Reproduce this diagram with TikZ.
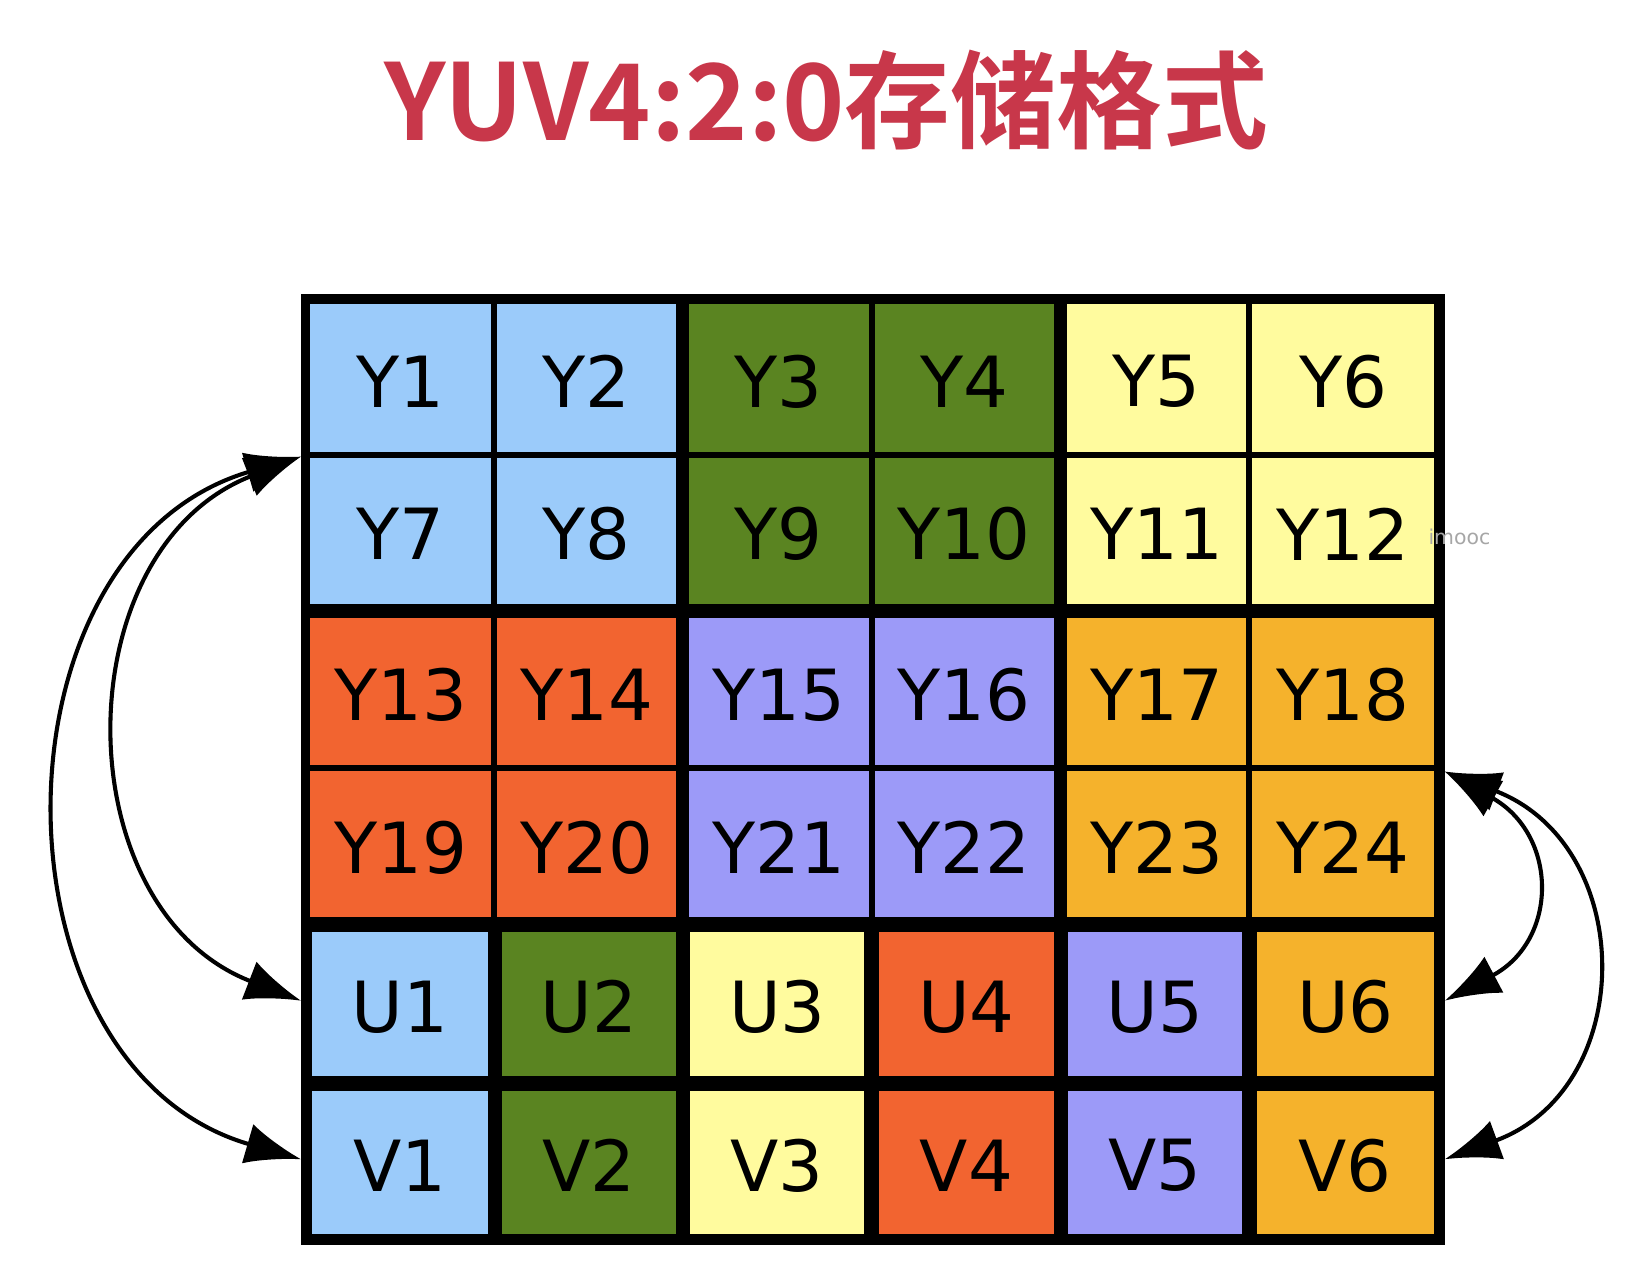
\documentclass[tikz,border=0pt]{standalone}
\usepackage{fontspec}
\setmainfont{DejaVu Sans}
\newfontfamily\cjk{Noto Sans CJK SC Bold}
\usetikzlibrary{arrows.meta}
\definecolor{cb}{HTML}{9BCBFA}
\definecolor{cg}{HTML}{5A8421}
\definecolor{cy}{HTML}{FFFB9E}
\definecolor{cr}{HTML}{F26430}
\definecolor{cp}{HTML}{9C9AF8}
\definecolor{co}{HTML}{F5B22C}
\definecolor{ct}{HTML}{C8374A}
\tikzset{cell/.style={inner sep=0pt,font=\fontsize{38}{40}\selectfont},
  arr/.style={line width=2.2pt,{Latex[length=30pt,width=22pt]}-{Latex[length=30pt,width=22pt]}}}
\begin{document}
\begin{tikzpicture}[x=0.02cm,y=-0.02cm]
\useasboundingbox (0,0) rectangle (1550,1204);
\node[font=\cjk\fontsize{57}{60}\selectfont,text=ct] (title) at (782,95) {YUV4:2:0存储格式};
\fill[black] (285,278) rectangle (1367,1178);
\def\Yxs{{293,470,652,828,1010,1185}}
\def\Yxe{{465,640,822,997,1179,1357}}
\def\Yys{{288,433,585,730}}
\def\Yye{{428,572,724,868}}
\def\Uxs{{295,475,653,832,1011,1189}}
\def\Uxe{{462,640,818,997,1175,1357}}
\foreach \r in {0,...,3}{
 \foreach \c in {0,...,5}{
  \pgfmathtruncatemacro\n{\r*6+\c+1}
  \pgfmathtruncatemacro\blk{int(\r/2)*3+int(\c/2)}
  \pgfmathsetmacro\xa{\Yxs[\c]}\pgfmathsetmacro\xb{\Yxe[\c]}
  \pgfmathsetmacro\ya{\Yys[\r]}\pgfmathsetmacro\yb{\Yye[\r]}
  \ifcase\blk \def\col{cb}\or\def\col{cg}\or\def\col{cy}\or\def\col{cr}\or\def\col{cp}\or\def\col{co}\fi
  \fill[\col] (\xa,\ya) rectangle (\xb,\yb);
  \node[cell] (Y\n) at ({(\xa+\xb)/2},{(\ya+\yb)/2+3}) {Y\n};
 }}
\foreach \c [count=\k] in {0,...,5}{
  \pgfmathsetmacro\xa{\Uxs[\c]}\pgfmathsetmacro\xb{\Uxe[\c]}
  \ifcase\c \def\col{cb}\or\def\col{cg}\or\def\col{cy}\or\def\col{cr}\or\def\col{cp}\or\def\col{co}\fi
  \fill[\col] (\xa,882) rectangle (\xb,1018);
  \fill[\col] (\xa,1032) rectangle (\xb,1168);
  \node[cell] (U\k) at ({(\xa+\xb)/2},953) {U\k};
  \node[cell] (V\k) at ({(\xa+\xb)/2},1103) {V\k};
}
\node[text=black!35,font=\fontsize{11}{12}\selectfont] (wm) at (1381,508) {imooc};
\coordinate (L0) at (285,432);
\coordinate (LU) at (285,947);
\coordinate (LV) at (285,1097);
\coordinate (R0) at (1367,730);
\coordinate (RU) at (1367,947);
\coordinate (RV) at (1367,1097);
\draw[arr] (L0) .. controls (60,520) and (60,860) .. (LU);
\draw[arr] (L0) .. controls (-15,520) and (-15,1010) .. (LV);
\draw[arr] (R0) .. controls (1475,790) and (1475,890) .. (RU);
\draw[arr] (R0) .. controls (1550,800) and (1550,1030) .. (RV);
\end{tikzpicture}
\end{document}
